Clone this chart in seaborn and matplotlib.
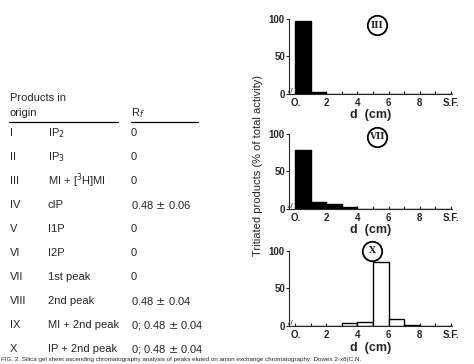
import numpy as np
import pandas as pd
import matplotlib
matplotlib.use("Agg")
import matplotlib.pyplot as plt
import seaborn as sns

sns.set_style("white")
plt.rcParams['font.family'] = ['Liberation Sans', 'DejaVu Sans']

# histogram bins d (cm): 0-1, 1-2, ..., 9-10
bin_left = np.arange(0, 10)
pct_III = [97, 2, 0.5, 0.5, 0.5, 0.5, 0.5, 0.5, 0.5, 0.5]
pct_VII = [78, 9, 6, 2, 0.5, 0.5, 0.5, 0.5, 0.5, 0.5]
pct_X = [0, 0, 0, 4, 6, 85, 9, 2, 0, 0]

panel_names = ["III", "VII", "X"]
tick_pos = [0, 2, 4, 6, 8, 10]
tick_lab = ["O.", "2", "4", "6", "8", "S.F."]

rows_num = ["I", "II", "III", "IV", "V", "VI", "VII", "VIII", "IX", "X"]
rows_prod = ["IP$_2$", "IP$_3$", "MI + [$^3$H]MI", "cIP", "I1P", "I2P",
             "1st peak", "2nd peak", "MI + 2nd peak", "IP + 2nd peak"]
rows_rf = ["0", "0", "0", "0.48 $\\pm$ 0.06", "0", "0", "0",
           "0.48 $\\pm$ 0.04", "0; 0.48 $\\pm$ 0.04", "0; 0.48 $\\pm$ 0.04"]

fig = plt.figure(figsize=(4.74, 3.64), dpi=100)

panels = [
    (pct_III, "black", 0.742, (0.54, 0.91)),
    (pct_VII, "black", 0.426, (0.54, 0.96)),
    (pct_X, "white", 0.104, (0.51, 1.0)),
]

for (vals, fc, bottom, (cx, cy)), name in zip(panels, panel_names):
    ax = fig.add_axes([0.610, bottom, 0.344, 0.207])
    df = pd.DataFrame({"d": bin_left + 0.5, "pct": vals})
    sns.histplot(data=df, x="d", weights="pct", binwidth=1, binrange=(0, 10),
                 color=fc, edgecolor="black", linewidth=1.0, alpha=1,
                 ax=ax)
    ax.set_xlim(-0.4, 10.1)
    ax.set_ylim(0, 100)
    sns.despine(ax=ax)
    ax.spines['left'].set_linewidth(0.8)
    ax.spines['bottom'].set_linewidth(0.8)
    ax.set_xticks(tick_pos)
    ax.set_xticklabels(tick_lab, fontsize=7, fontweight="bold")
    ax.set_xticks(np.arange(1, 10), minor=True)
    ax.tick_params(axis="x", which="both", direction="in", length=2.5,
                   width=0.8, pad=3, bottom=True)
    ax.set_yticks([0, 50, 100])
    ax.set_yticklabels(["0", "50", "100"], fontsize=7, fontweight="bold")
    ax.tick_params(axis="y", direction="out", length=2, width=0.8, pad=1,
                   left=True)
    ax.set_ylabel("")
    ax.set_xlabel("d  (cm)", fontsize=9, fontweight="bold", labelpad=1)
    ax.text(-0.35, 3, "//", fontsize=6, ha="center", va="center")
    ax.plot([cx], [cy], "o", ms=14, mfc="white", mec="black", mew=1.3,
            transform=ax.transAxes, clip_on=False, zorder=5)
    ax.text(cx, cy, name, fontsize=6.5, fontweight="bold",
            family="DejaVu Serif", ha="center", va="center",
            transform=ax.transAxes, zorder=6)

fig.text(258 / 474, 1 - 165 / 364, "Tritiated products (% of total activity)",
         rotation=90, fontsize=8, ha="center", va="center")

# table on the left
fs = 8
fig.text(10 / 474, 1 - 98 / 364, "Products in", fontsize=fs, va="center")
fig.text(10 / 474, 1 - 113 / 364, "origin", fontsize=fs, va="center")
fig.text(131 / 474, 1 - 113 / 364, "R$_f$", fontsize=fs, va="center")
fig.add_artist(plt.Line2D([9 / 474, 118 / 474], [1 - 122 / 364] * 2,
                          color="black", lw=0.9))
fig.add_artist(plt.Line2D([131 / 474, 198 / 474], [1 - 122 / 364] * 2,
                          color="black", lw=0.9))
for i, (a, b, c) in enumerate(zip(rows_num, rows_prod, rows_rf)):
    y = 1 - (133 + i * 24) / 364
    fig.text(10 / 474, y, a, fontsize=fs, va="center")
    fig.text(48 / 474, y, b, fontsize=fs, va="center")
    fig.text(131 / 474, y, c, fontsize=fs, va="center")

fig.text(0.002, 1 - 359 / 364,
         "FIG. 2. Silica gel sheet ascending chromatography analysis of peaks "
         "eluted on anion exchange chromatography: Dowex 2-x8(C.N.",
         fontsize=4.5, va="center")

fig.savefig("out.png", dpi=100)
